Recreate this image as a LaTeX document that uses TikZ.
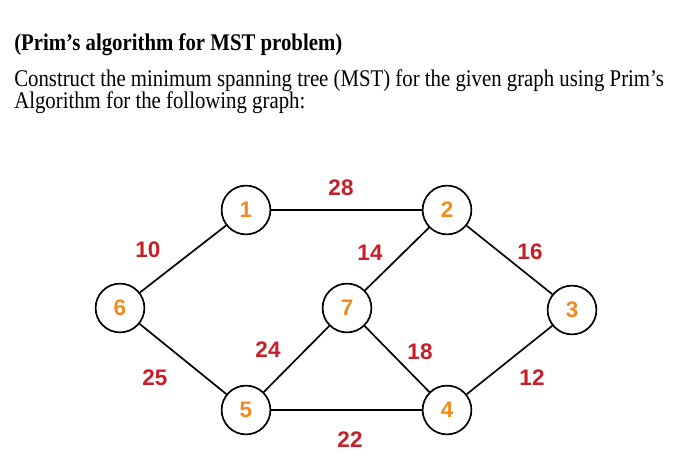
\documentclass[tikz,border=0pt]{standalone}
\usepackage{fontspec}
\setmainfont[FakeStretch=0.87]{Liberation Serif}
\newfontfamily\labelfont{Liberation Sans}
\definecolor{vnum}{HTML}{F08C1E}
\definecolor{wnum}{HTML}{C81E28}

\begin{document}
\begin{tikzpicture}[vert/.style={circle,draw,line width=1.2pt,minimum size=1.22cm,inner sep=0pt,font=\labelfont\fontsize{16}{16}\selectfont\bfseries,text=vnum},
  wt/.style={font=\labelfont\fontsize{16}{16}\selectfont\bfseries,text=wnum},
  txt/.style={anchor=base west,inner sep=0pt,font=\fontsize{17}{17}\selectfont},
  edge/.style={line width=1.2pt}]
\useasboundingbox (0,0) rectangle (16.95,11.8);
\node[txt,font=\fontsize{17}{17}\selectfont\bfseries] (title) at (0.35,10.525) {(Prim's algorithm for MST problem)};
\node[txt] (line1) at (0.35,9.625) {Construct the minimum spanning tree (MST) for the given graph using Prim's};
\node[txt] (line2) at (0.35,9.075) {Algorithm for the following graph:};
\node[vert] (v1) at (6.15,6.55) {1};
\node[vert] (v2) at (11.175,6.55) {2};
\node[vert] (v6) at (3.0,4.1) {6};
\node[vert] (v7) at (8.675,4.1) {7};
\node[vert] (v3) at (14.3,4.05) {3};
\node[vert] (v5) at (6.15,1.55) {5};
\node[vert] (v4) at (11.175,1.55) {4};
\draw[edge] (v1) -- (v2);
\draw[edge] (v1) -- (v6);
\draw[edge] (v2) -- (v7);
\draw[edge] (v2) -- (v3);
\draw[edge] (v6) -- (v5);
\draw[edge] (v7) -- (v5);
\draw[edge] (v7) -- (v4);
\draw[edge] (v3) -- (v4);
\draw[edge] (v5) -- (v4);
\node[wt] (w28) at (8.525,7.1) {28};
\node[wt] (w10) at (3.7,5.55) {10};
\node[wt] (w14) at (9.25,5.475) {14};
\node[wt] (w16) at (13.25,5.5) {16};
\node[wt] (w24) at (6.7,3.05) {24};
\node[wt] (w18) at (10.5,3.0) {18};
\node[wt] (w25) at (3.875,2.35) {25};
\node[wt] (w12) at (13.3,2.35) {12};
\node[wt] (w22) at (8.75,0.8) {22};
\end{tikzpicture}
\end{document}
